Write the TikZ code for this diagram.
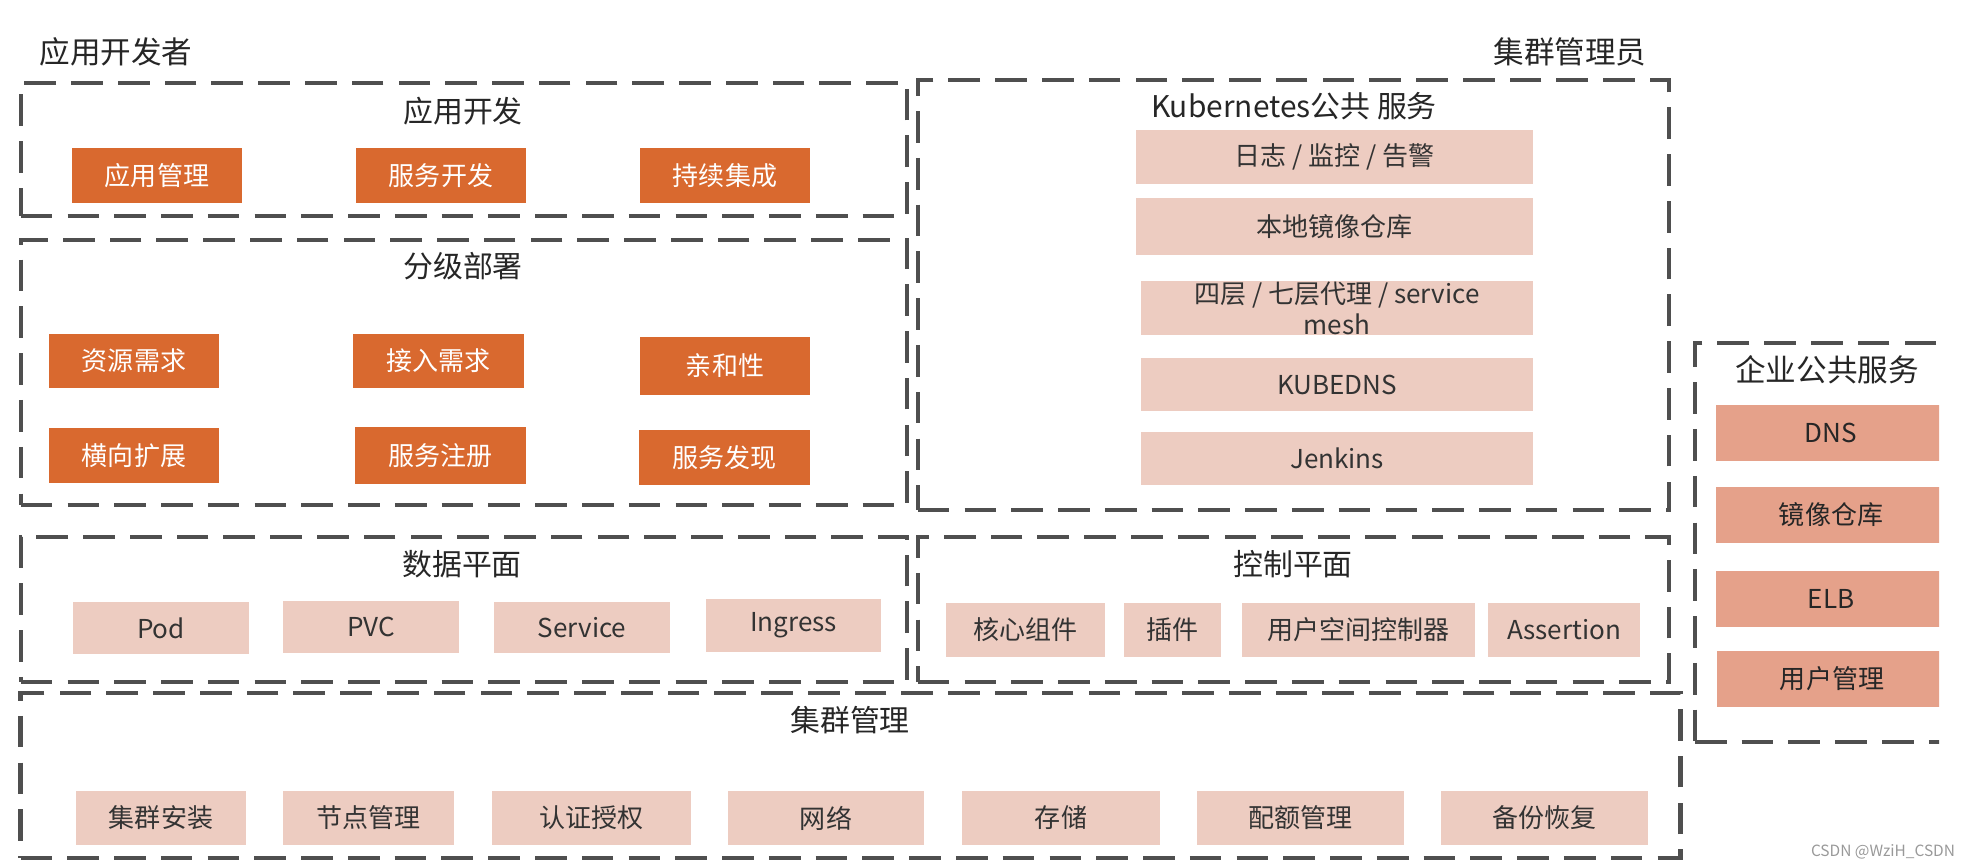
\documentclass[tikz,border=0pt]{standalone}
\usepackage{fontspec}
\setmainfont{Noto Sans CJK SC}
\usetikzlibrary{positioning}

\definecolor{devorange}{HTML}{D9692F}
\definecolor{k8spink}{HTML}{EDCCC1}
\definecolor{entsalmon}{HTML}{E5A18A}
\definecolor{framegray}{HTML}{4F4F4F}

\begin{document}
\begin{tikzpicture}[x=0.01cm, y=-0.01cm]
    \tikzstyle{grp}=[draw=framegray, line width=1.15pt, dash pattern=on 9pt off 4.3pt, inner sep=0pt]
    \tikzstyle{ttl}=[text=black!85, font=\fontsize{8.5}{10}\selectfont]
    \tikzstyle{role}=[text=black!85, font=\fontsize{8.7}{10}\selectfont]
    \tikzstyle{cell}=[inner sep=0pt, minimum height=0.54cm, font=\fontsize{7.4}{8.8}\selectfont]
    \tikzstyle{dev}=[cell, fill=devorange, text=white, minimum width=1.70cm]
    \tikzstyle{k8s}=[cell, fill=k8spink, text=black!80]
    \tikzstyle{ent}=[cell, fill=entsalmon, text=black!85, minimum width=2.30cm, minimum height=0.56cm]
    \useasboundingbox (0,0) rectangle (1964,868);

    % roles
    \node[role] (R1) at (116,52) {应用开发者};
    \node[role] (R2) at (1570,52) {集群管理员};

    % app development
    \node[grp, minimum width=8.86cm, minimum height=1.33cm] (A) at (464,149.5) {};
    \node[ttl] (At) at (463,111) {应用开发};
    \node[dev] (A1) at (157,175.5) {应用管理};
    \node[dev] (A2) at (441,175.5) {服务开发};
    \node[dev] (A3) at (725,175.5) {持续集成};

    % staged deployment
    \node[grp, minimum width=8.86cm, minimum height=2.65cm] (B) at (464,372.5) {};
    \node[ttl] (Bt) at (463,266) {分级部署};
    \node[dev] (B1) at (134,361) {资源需求};
    \node[dev] (B2) at (438.5,361) {接入需求};
    \node[dev, minimum height=0.57cm] (B3) at (725,366) {亲和性};
    \node[dev] (B4) at (134,455.5) {横向扩展};
    \node[dev, minimum height=0.57cm] (B5) at (440.5,455.5) {服务注册};
    \node[dev] (B6) at (724.5,457.5) {服务发现};

    % data plane
    \node[grp, minimum width=8.86cm, minimum height=1.45cm] (C) at (464,609.5) {};
    \node[ttl] (Ct) at (462,564) {数据平面};
    \node[k8s, minimum width=1.76cm, minimum height=0.51cm] (C1) at (161,628) {Pod};
    \node[k8s, minimum width=1.76cm, minimum height=0.51cm] (C2) at (371,627) {PVC};
    \node[k8s, minimum width=1.76cm, minimum height=0.50cm] (C3) at (582,627.5) {Service};
    \node[k8s, minimum width=1.75cm, minimum height=0.53cm] (C4) at (793.5,625.5) {Ingress};

    % kubernetes services
    \node[grp, minimum width=7.51cm, minimum height=4.30cm] (D) at (1293.5,295) {};
    \node[ttl] (Dt) at (1294,106) {Kubernetes公共 服务};
    \node[k8s, minimum width=3.97cm] (D1) at (1334.5,157) {日志 / 监控 / 告警};
    \node[k8s, minimum width=3.97cm, minimum height=0.57cm] (D2) at (1334.5,226.5) {本地镜像仓库};
    \node[k8s, minimum width=3.92cm, align=center] (D3) at (1337,308) {四层 / 七层代理 / service\\mesh};
    \node[k8s, minimum width=3.92cm, minimum height=0.53cm] (D4) at (1337,384.5) {KUBEDNS};
    \node[k8s, minimum width=3.92cm, minimum height=0.53cm] (D5) at (1337,458.5) {Jenkins};

    % control plane
    \node[grp, minimum width=7.51cm, minimum height=1.45cm] (E) at (1293.5,609.5) {};
    \node[ttl] (Et) at (1293,564) {控制平面};
    \node[k8s, minimum width=1.59cm] (E1) at (1025.5,630) {核心组件};
    \node[k8s, minimum width=0.97cm] (E2) at (1172.5,630) {插件};
    \node[k8s, minimum width=2.33cm] (E3) at (1358.5,630) {用户空间控制器};
    \node[k8s, minimum width=1.52cm] (E4) at (1564,630) {Assertion};

    % cluster management
    \node[grp, minimum width=16.59cm, minimum height=1.65cm] (F) at (850.5,775.5) {};
    \node[ttl] (Ft) at (850,720) {集群管理};
    \node[k8s, minimum width=1.70cm] (F1) at (161,818) {集群安装};
    \node[k8s, minimum width=1.71cm] (F2) at (368.5,818) {节点管理};
    \node[k8s, minimum width=1.99cm] (F3) at (591.5,818) {认证授权};
    \node[k8s, minimum width=1.96cm] (F4) at (826,818) {网络};
    \node[k8s, minimum width=1.98cm] (F5) at (1061,818) {存储};
    \node[k8s, minimum width=2.07cm] (F6) at (1300.5,818) {配额管理};
    \node[k8s, minimum width=2.07cm] (F7) at (1544.5,818) {备份恢复};

    % enterprise services, cut at the right
    \begin{scope}
    \clip (0,0) rectangle (1939,868);
    \node[grp, minimum width=2.95cm, minimum height=3.99cm] (G) at (1842.5,542.5) {};
    \node[role] (Gt) at (1827,370) {企业公共服务};
    \node[ent] (G1) at (1831,433) {DNS};
    \node[ent] (G2) at (1831,515) {镜像仓库};
    \node[ent] (G3) at (1831,599) {ELB};
    \node[ent] (G4) at (1832,679) {用户管理};
    \end{scope}

    \node[text=black!40, font=\fontsize{4.4}{5}\selectfont] (W) at (1883,852) {CSDN @WziH\_CSDN};
\end{tikzpicture}
\end{document}
